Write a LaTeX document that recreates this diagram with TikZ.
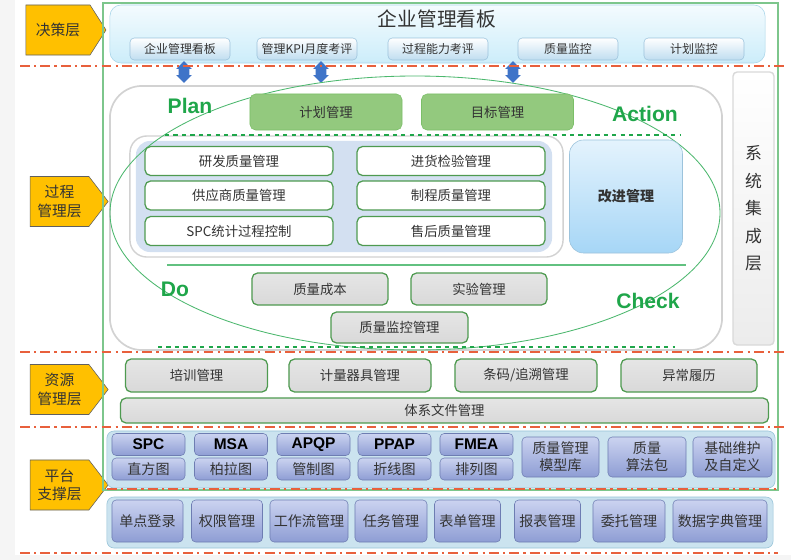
\documentclass[tikz,border=0pt]{standalone}
\usepackage{fontspec}
\setmainfont{Noto Sans CJK SC}
\newfontfamily\latfont{Liberation Sans}
\usetikzlibrary{shapes.symbols,shapes.arrows}
\definecolor{cInk}{HTML}{333333}
\definecolor{cGrn}{HTML}{1FA64A}
\definecolor{cFrame}{HTML}{7DC68C}
\definecolor{cEdge}{HTML}{4E9A50}
\definecolor{cOrg}{HTML}{FFC000}
\definecolor{cSep}{HTML}{E8603C}
\definecolor{cTopT}{HTML}{F4FBFE}
\definecolor{cTopB}{HTML}{CCEDFA}
\definecolor{cTopE}{HTML}{A9D6EA}
\definecolor{cKbB}{HTML}{BFDDF0}
\definecolor{cKbE}{HTML}{9CC3DC}
\definecolor{cGb}{HTML}{93C97E}
\definecolor{cGbE}{HTML}{7BBF68}
\definecolor{cImpT}{HTML}{E4F3FD}
\definecolor{cImpB}{HTML}{A6D6F6}
\definecolor{cInner}{HTML}{D3E0F1}
\definecolor{cBtnT}{HTML}{CBD3F0}
\definecolor{cBtnB}{HTML}{8E9DD4}
\definecolor{cBtnE}{HTML}{6E7DB2}
\definecolor{cPlat}{HTML}{CBE3EF}
\definecolor{cPlatE}{HTML}{96C3D8}
\definecolor{cArr}{HTML}{3F74C8}
\tikzset{
  every node/.style={font=\fontsize{9.5}{11}\selectfont, text=cInk},
  layer/.style={signal, signal to=east, signal pointer angle=105, draw=gray!75!black, fill=cOrg, minimum width=1.95cm, minimum height=1.25cm, align=center, inner sep=1pt, font=\fontsize{10.5}{13}\selectfont},
  sep/.style={draw=cSep, line width=1.1pt, dash pattern=on 7pt off 3pt on 1.5pt off 3pt},
  tpanel/.style={rounded corners=8pt, draw=cTopE, top color=cTopT, bottom color=cTopB, minimum width=16.375cm, minimum height=1.45cm},
  kbtn/.style={rounded corners=3pt, draw=cKbE, top color=white, bottom color=cKbB, minimum width=2.5cm, minimum height=0.55cm, inner sep=0pt, font=\fontsize{8.5}{10}\selectfont},
  updown/.style={double arrow, rotate=90, fill=cArr, minimum height=0.38cm, double arrow head extend=0.06cm, inner sep=0.13cm},
  gbox/.style={rounded corners=4pt, draw=cGbE, fill=cGb, minimum width=3.8cm, minimum height=0.9cm},
  wbox/.style={rounded corners=4pt, draw=cEdge, line width=0.9pt, fill=white, minimum width=4.7cm, minimum height=0.725cm},
  sbox/.style={rounded corners=4pt, draw=cEdge, line width=0.9pt, top color=gray!20, bottom color=gray!30, minimum width=3.4cm, minimum height=0.8cm},
  btn/.style={rounded corners=3pt, draw=cBtnE, top color=cBtnT, bottom color=cBtnB, minimum width=1.825cm, minimum height=0.55cm, inner sep=0pt, font=\fontsize{10}{12}\selectfont},
  tbtn/.style={btn, minimum height=1.05cm, align=center},
  lat/.style={font=\latfont\bfseries\fontsize{11}{12}\selectfont, text=black},
  pdca/.style={font=\latfont\bfseries\fontsize{15}{18}\selectfont, text=cGrn},
  plat/.style={rounded corners=5pt, draw=cPlatE, fill=cPlat},
}
\begin{document}
\begin{tikzpicture}[x=0.025cm,y=-0.025cm]
\useasboundingbox (0,0) rectangle (791,560);
\fill[gray!8] (0,0) rectangle (791,560);
\fill[white] (15,0) rectangle (791,555);
% layer labels
\node[layer, minimum width=2cm, signal pointer angle=115] (l1) at (58,30) {决策层};
\node[layer] (l2) at (59.5,201.5) {过程\\管理层};
\node[layer] (l3) at (59.5,389.5) {资源\\管理层};
\node[layer] (l4) at (59.5,485) {平台\\支撑层};
% decision layer
\node[tpanel] (board) at (437.5,34) {};
\node[font=\fontsize{14}{16}\selectfont] (title) at (437,19) {企业管理看板};
\node[kbtn] (k1) at (180,49) {企业管理看板};
\node[kbtn] (k2) at (307,49) {管理KPI月度考评};
\node[kbtn] (k3) at (438,49) {过程能力考评};
\node[kbtn] (k4) at (568,49) {质量监控};
\node[kbtn] (k5) at (694,49) {计划监控};
\node[updown] (a1) at (184,72) {};
\node[updown] (a2) at (321,72) {};
\node[updown] (a3) at (513,72) {};
% process layer
\node[draw=gray!35, line width=1.2pt, rounded corners=0.8cm, fill=white, minimum width=15.3cm, minimum height=6.6cm] (proc) at (416,218) {};
\node[draw=gray!30, line width=1pt, top color=white, bottom color=gray!15, minimum width=1.025cm, minimum height=6.825cm, rounded corners=3pt, align=center, font=\fontsize{12}{19.5}\selectfont] (sys) at (753.5,208.5) {系\\统\\集\\成\\层};
\node[draw=gray!35, line width=1pt, rounded corners=12pt, fill=white, minimum width=10.825cm, minimum height=3.025cm] (inbox) at (346.5,196.5) {};
\node[rounded corners=10pt, fill=cInner, minimum width=10.4cm, minimum height=2.775cm] (inner) at (344,196.5) {};
\draw[cGrn!80, line width=0.6pt] (415,213) ellipse [x radius=305, y radius=137];
\draw[cGrn, line width=1pt, dashed] (165,135) -- (680,135);
\draw[cGrn!70, line width=1pt] (167,265) -- (686,265);
\draw[cGrn, line width=1pt, dashed] (158,347) -- (675,347);
\node[pdca] (plan) at (190,106) {Plan};
\node[pdca] (act) at (645,114) {Action};
\node[pdca] (do) at (175,289) {Do};
\node[pdca] (chk) at (648,301) {Check};
\node[gbox] (jh) at (326,112) {计划管理};
\node[gbox] (mb) at (497.5,112) {目标管理};
\node[wbox] (w1) at (239,161) {研发质量管理};
\node[wbox] (w2) at (239,195.5) {供应商质量管理};
\node[wbox] (w3) at (239,231) {SPC统计过程控制};
\node[wbox] (w4) at (451,161) {进货检验管理};
\node[wbox] (w5) at (451,195.5) {制程质量管理};
\node[wbox] (w6) at (451,231) {售后质量管理};
\node[rounded corners=10pt, draw=cKbE, top color=cImpT, bottom color=cImpB, minimum width=2.825cm, minimum height=2.825cm, font=\bfseries\fontsize{10}{12}\selectfont] (imp) at (626,196.5) {改进管理};
\node[sbox] (cb) at (320,289) {质量成本};
\node[sbox] (sy) at (479,289) {实验管理};
\node[sbox, minimum width=3.425cm, minimum height=0.775cm] (jk) at (399.5,327.5) {质量监控管理};
% resource layer
\node[sbox, minimum width=3.55cm, minimum height=0.825cm] (r1) at (196.5,375.5) {培训管理};
\node[sbox, minimum width=3.55cm, minimum height=0.825cm] (r2) at (360,375.5) {计量器具管理};
\node[sbox, minimum width=3.55cm, minimum height=0.825cm] (r3) at (526,375.5) {条码/追溯管理};
\node[sbox, minimum width=3.4cm, minimum height=0.825cm] (r4) at (689,375.5) {异常履历};
\node[sbox, minimum width=16.2cm, minimum height=0.625cm] (r5) at (444.5,410.5) {体系文件管理};
% platform layer
\node[plat, minimum width=16.7cm, minimum height=1.425cm] (pu) at (441,459.5) {};
\node[plat, minimum width=16.65cm, minimum height=1.275cm] (pl) at (440,522.5) {};
\node[btn, lat] (b1) at (148.5,444.5) {SPC};
\node[btn, lat] (b2) at (231,444.5) {MSA};
\node[btn, lat] (b3) at (313.5,444.5) {APQP};
\node[btn, lat] (b4) at (394.5,444.5) {PPAP};
\node[btn, lat] (b5) at (476.5,444.5) {FMEA};
\node[btn] (c1) at (148.5,469) {直方图};
\node[btn] (c2) at (231,469) {柏拉图};
\node[btn] (c3) at (313.5,469) {管制图};
\node[btn] (c4) at (394.5,469) {折线图};
\node[btn] (c5) at (476.5,469) {排列图};
\node[tbtn, minimum width=1.925cm, minimum height=1.0cm] (m1) at (560.5,457) {质量管理\\模型库};
\node[tbtn, minimum width=1.95cm, minimum height=1.0cm] (m2) at (647,457) {质量\\算法包};
\node[tbtn, minimum width=1.975cm, minimum height=1.0cm] (m3) at (732.5,457) {基础维护\\及自定义};
\node[tbtn, minimum width=1.775cm] (d1) at (147.5,521) {单点登录};
\node[tbtn, minimum width=1.775cm] (d2) at (227,521) {权限管理};
\node[tbtn, minimum width=1.95cm] (d3) at (309,521) {工作流管理};
\node[tbtn, minimum width=1.8cm] (d4) at (391,521) {任务管理};
\node[tbtn, minimum width=1.65cm] (d5) at (467.5,521) {表单管理};
\node[tbtn, minimum width=1.65cm] (d6) at (547.5,521) {报表管理};
\node[tbtn, minimum width=1.8cm] (d7) at (629,521) {委托管理};
\node[tbtn, minimum width=2.35cm] (d8) at (720,521) {数据字典管理};
% frame and separators
\draw[cFrame, line width=1.2pt] (103,3) rectangle (778,490);
\draw[sep] (20,66) -- (785,66);
\draw[sep] (20,352) -- (785,352);
\draw[sep] (20,427) -- (785,427);
\draw[sep] (107,489) -- (778,489);
\draw[sep] (20,553) -- (778,553);
\end{tikzpicture}
\end{document}
